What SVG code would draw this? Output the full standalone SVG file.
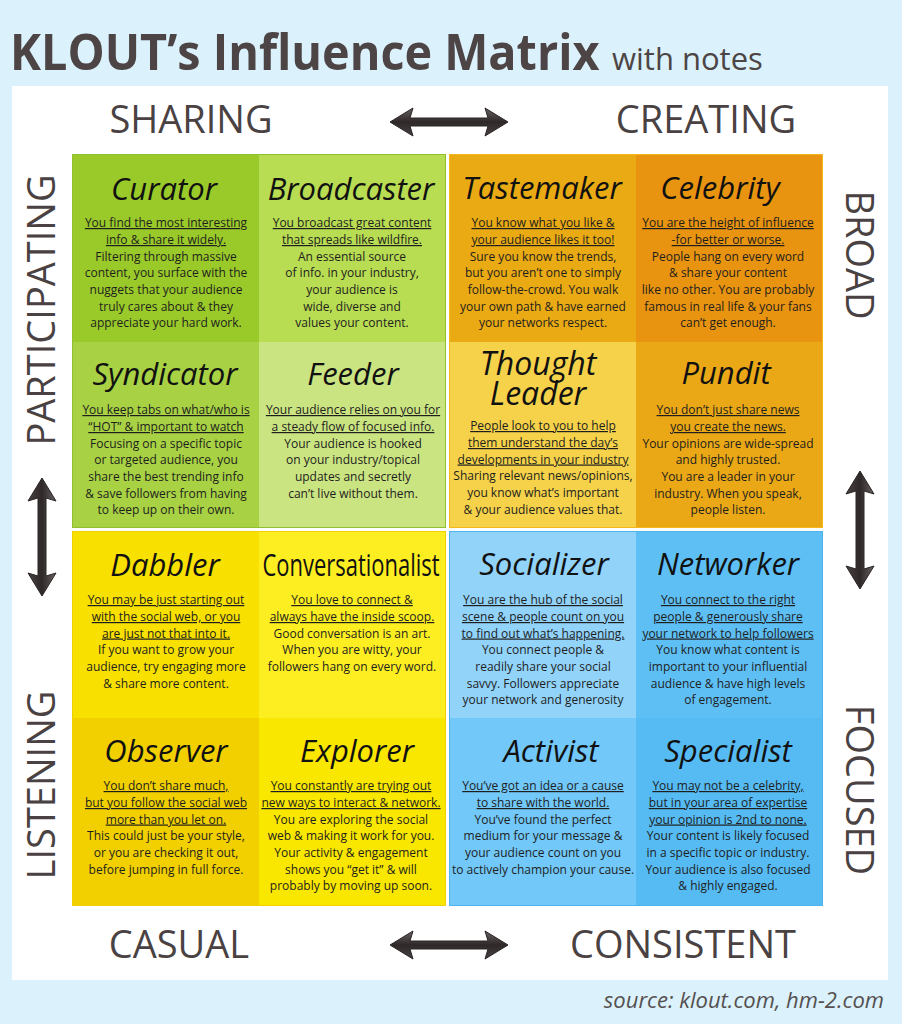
<svg xmlns="http://www.w3.org/2000/svg" width="902" height="1024" viewBox="0 0 902 1024">
<defs>
<style>
.h{font-family:"Open Sans","Noto Sans",sans-serif;font-style:italic;font-size:31px;fill:#111;text-anchor:middle}
.b{font-family:"Open Sans","Noto Sans",sans-serif;font-size:12px;fill:#1e1e1e;text-anchor:middle}
.u{text-decoration:underline}
.ax{font-family:"Open Sans","Noto Sans",sans-serif;font-size:38px;fill:#4a4242;text-anchor:middle}
.q{stroke-width:2}
</style>
<linearGradient id="ag" x1="0" y1="0" x2="0" y2="1">
<stop offset="0" stop-color="#6a6262"/><stop offset="0.5" stop-color="#2e2828"/><stop offset="1" stop-color="#4a4242"/>
</linearGradient>
<path id="arr" d="M-59,0 L-36,-14 L-39,-4 L39,-4 L36,-14 L59,0 L36,14 L39,4 L-39,4 L-36,14 Z" fill="url(#ag)" stroke="#2a2424" stroke-width="1"/>
</defs>
<rect x="0" y="0" width="902" height="1024" fill="#dbf1fc"/>
<rect x="12" y="86" width="876" height="894" fill="#ffffff"/>
<g id="title">
<text transform="translate(10,70) scale(0.9,1)" x="0" y="0" font-family="'Open Sans','Noto Sans',sans-serif" font-weight="bold" font-size="50" fill="#4d4545" textLength="655" lengthAdjust="spacingAndGlyphs">KLOUT’s Influence Matrix</text>
<text x="612" y="70" font-family="'Open Sans','Noto Sans',sans-serif" font-size="31" fill="#4d4545">with notes</text>
</g>
<g id="axis-labels">
<text class="ax" x="191" y="133">SHARING</text>
<text class="ax" x="706" y="133">CREATING</text>
<text class="ax" x="179" y="958">CASUAL</text>
<text class="ax" x="683" y="958">CONSISTENT</text>
<text class="ax" transform="translate(55,310) rotate(-90)">PARTICIPATING</text>
<text class="ax" transform="translate(55,785) rotate(-90)">LISTENING</text>
<text class="ax" transform="translate(846,255) rotate(90)">BROAD</text>
<text class="ax" transform="translate(846,790) rotate(90)">FOCUSED</text>
</g>
<g id="connectors">
<use href="#arr" transform="translate(449,122)"/>
<use href="#arr" transform="translate(449,945)"/>
<use href="#arr" transform="translate(42,537) rotate(90)"/>
<use href="#arr" transform="translate(860,530) rotate(90)"/>
</g>
<g id="quadrant-frames" fill="none">
<rect class="q" x="73" y="155" width="372" height="372" stroke="#90c030"/>
<rect class="q" x="450" y="155" width="372" height="372" stroke="#f2b81c"/>
<rect class="q" x="73" y="532" width="372" height="373" stroke="#f0d000"/>
<rect class="q" x="450" y="532" width="372" height="373" stroke="#50b4ec"/>
</g>
<g id="curator">
<rect x="73" y="155" width="186" height="187" fill="#9aca2a"/>
<text class="h" x="164" y="200">Curator</text>
<text class="b u" x="166" y="227">You find the most interesting</text>
<text class="b u" x="166" y="244">info &amp; share it widely.</text>
<text class="b" x="166" y="260.5">Filtering through massive</text>
<text class="b" x="166" y="277">content, you surface with the</text>
<text class="b" x="166" y="294">nuggets that your audience</text>
<text class="b" x="166" y="310.5">truly cares about &amp; they</text>
<text class="b" x="166" y="327">appreciate your hard work.</text>
</g>
<g id="broadcaster">
<rect x="259" y="155" width="186" height="187" fill="#b8dc52"/>
<text class="h" x="351" y="200">Broadcaster</text>
<text class="b u" x="352" y="227">You broadcast great content</text>
<text class="b u" x="352" y="244">that spreads like wildfire.</text>
<text class="b" x="352" y="260.5">An essential source</text>
<text class="b" x="352" y="277">of info. in your industry,</text>
<text class="b" x="352" y="294">your audience is</text>
<text class="b" x="352" y="310.5">wide, diverse and</text>
<text class="b" x="352" y="327">values your content.</text>
</g>
<g id="tastemaker">
<rect x="450" y="155" width="186" height="187" fill="#eaaa14"/>
<text class="h" x="542" y="199">Tastemaker</text>
<text class="b u" x="543" y="227">You know what you like &amp;</text>
<text class="b u" x="543" y="244">your audience likes it too!</text>
<text class="b" x="543" y="260.5">Sure you know the trends,</text>
<text class="b" x="543" y="277">but you aren’t one to simply</text>
<text class="b" x="543" y="294">follow-the-crowd. You walk</text>
<text class="b" x="543" y="310.5">your own path &amp; have earned</text>
<text class="b" x="543" y="327">your networks respect.</text>
</g>
<g id="celebrity">
<rect x="636" y="155" width="186" height="187" fill="#e99410"/>
<text class="h" x="720" y="199">Celebrity</text>
<text class="b u" x="728" y="227">You are the height of influence</text>
<text class="b u" x="728" y="244">-for better or worse.</text>
<text class="b" x="728" y="260.5">People hang on every word</text>
<text class="b" x="728" y="277">&amp; share your content</text>
<text class="b" x="728" y="294">like no other. You are probably</text>
<text class="b" x="728" y="310.5">famous in real life &amp; your fans</text>
<text class="b" x="728" y="327">can’t get enough.</text>
</g>
<g id="syndicator">
<rect x="73" y="342" width="186" height="185" fill="#a8d244"/>
<text class="h" x="165" y="385">Syndicator</text>
<text class="b u" x="166" y="414">You keep tabs on what/who is</text>
<text class="b u" x="166" y="431">“HOT” &amp; important to watch</text>
<text class="b" x="166" y="447.5">Focusing on a specific topic</text>
<text class="b" x="166" y="464">or targeted audience, you</text>
<text class="b" x="166" y="481">share the best trending info</text>
<text class="b" x="166" y="497.5">&amp; save followers from having</text>
<text class="b" x="166" y="514">to keep up on their own.</text>
</g>
<g id="feeder">
<rect x="259" y="342" width="186" height="185" fill="#cbe482"/>
<text class="h" x="353" y="385">Feeder</text>
<text class="b u" x="353" y="414">Your audience relies on you for</text>
<text class="b u" x="353" y="431">a steady flow of focused info.</text>
<text class="b" x="353" y="447.5">Your audience is hooked</text>
<text class="b" x="353" y="464">on your industry/topical</text>
<text class="b" x="353" y="481">updates and secretly</text>
<text class="b" x="353" y="497.5">can’t live without them.</text>
</g>
<g id="thought-leader">
<rect x="450" y="342" width="186" height="185" fill="#f5d24a"/>
<text class="h" x="538" y="375" style="font-size:32px">Thought<tspan x="538" dy="30">Leader</tspan></text>
<text class="b u" x="543" y="430">People look to you to help</text>
<text class="b u" x="543" y="447">them understand the day’s</text>
<text class="b u" x="543" y="463.5">developments in your industry</text>
<text class="b" x="543" y="480">Sharing relevant news/opinions,</text>
<text class="b" x="543" y="497">you know what’s important</text>
<text class="b" x="543" y="513.5">&amp; your audience values that.</text>
</g>
<g id="pundit">
<rect x="636" y="342" width="186" height="185" fill="#eaa816"/>
<text class="h" x="726" y="384">Pundit</text>
<text class="b u" x="728" y="414">You don’t just share news</text>
<text class="b u" x="728" y="431">you create the news.</text>
<text class="b" x="728" y="447.5">Your opinions are wide-spread</text>
<text class="b" x="728" y="464">and highly trusted.</text>
<text class="b" x="728" y="481">You are a leader in your</text>
<text class="b" x="728" y="497.5">industry.  When you speak,</text>
<text class="b" x="728" y="514">people listen.</text>
</g>
<g id="dabbler">
<rect x="73" y="532" width="186" height="186" fill="#f8e000"/>
<text class="h" x="165" y="576">Dabbler</text>
<text class="b u" x="166" y="604">You may be just starting out</text>
<text class="b u" x="166" y="621">with the social web, or you</text>
<text class="b u" x="166" y="637.5">are just not that into it.</text>
<text class="b" x="166" y="654">If you want to grow your</text>
<text class="b" x="166" y="671">audience, try engaging more</text>
<text class="b" x="166" y="687.5">&amp; share more content.</text>
</g>
<g id="conversationalist">
<rect x="259" y="532" width="186" height="186" fill="#fdee22"/>
<text class="h" transform="translate(351,576) scale(0.7,1)" x="0" y="0" style="font-style:normal" textLength="253" lengthAdjust="spacingAndGlyphs">Conversationalist</text>
<text class="b u" x="352" y="604">You love to connect &amp;</text>
<text class="b u" x="352" y="621">always have the inside scoop.</text>
<text class="b" x="352" y="637.5">Good conversation is an art.</text>
<text class="b" x="352" y="654">When you are witty, your</text>
<text class="b" x="352" y="671">followers hang on every word.</text>
</g>
<g id="socializer">
<rect x="450" y="532" width="186" height="186" fill="#92d3fa"/>
<text class="h" x="544" y="575">Socializer</text>
<text class="b u" x="543" y="604">You are the hub of the social</text>
<text class="b u" x="543" y="621">scene &amp; people count on you</text>
<text class="b u" x="543" y="637.5">to find out what’s happening.</text>
<text class="b" x="543" y="654">You connect people &amp;</text>
<text class="b" x="543" y="671">readily share your social</text>
<text class="b" x="543" y="687.5">savvy. Followers appreciate</text>
<text class="b" x="543" y="704">your network and generosity</text>
</g>
<g id="networker">
<rect x="636" y="532" width="186" height="186" fill="#5ebff4"/>
<text class="h" x="728" y="575">Networker</text>
<text class="b u" x="728" y="604">You connect to the right</text>
<text class="b u" x="728" y="621">people &amp; generously share</text>
<text class="b u" x="728" y="637.5">your network to help followers</text>
<text class="b" x="728" y="654">You know what content is</text>
<text class="b" x="728" y="671">important to your influential</text>
<text class="b" x="728" y="687.5">audience &amp; have high levels</text>
<text class="b" x="728" y="704">of engagement.</text>
</g>
<g id="observer">
<rect x="73" y="718" width="186" height="187" fill="#f2d000"/>
<text class="h" x="166" y="762">Observer</text>
<text class="b u" x="166" y="790">You don’t share much,</text>
<text class="b u" x="166" y="807">but you follow the social web</text>
<text class="b u" x="166" y="823.5">more than you let on.</text>
<text class="b" x="166" y="840">This could just be your style,</text>
<text class="b" x="166" y="857">or you are checking it out,</text>
<text class="b" x="166" y="873.5">before jumping in full force.</text>
</g>
<g id="explorer">
<rect x="259" y="718" width="186" height="187" fill="#fae700"/>
<text class="h" x="357" y="762">Explorer</text>
<text class="b u" x="351" y="790">You constantly are trying out</text>
<text class="b u" x="351" y="807">new ways to interact &amp; network.</text>
<text class="b" x="351" y="823.5">You are exploring the social</text>
<text class="b" x="351" y="840">web &amp; making it work for you.</text>
<text class="b" x="351" y="857">Your activity &amp; engagement</text>
<text class="b" x="351" y="873.5">shows you “get it” &amp; will</text>
<text class="b" x="351" y="890">probably by moving up soon.</text>
</g>
<g id="activist">
<rect x="450" y="718" width="186" height="187" fill="#72c8f8"/>
<text class="h" x="551" y="762">Activist</text>
<text class="b u" x="543" y="790">You’ve got an idea or a cause</text>
<text class="b u" x="543" y="807">to share with the world.</text>
<text class="b" x="543" y="823.5">You’ve found the perfect</text>
<text class="b" x="543" y="840">medium for your message &amp;</text>
<text class="b" x="543" y="857">your audience count on you</text>
<text class="b" x="543" y="873.5">to actively champion your cause.</text>
</g>
<g id="specialist">
<rect x="636" y="718" width="186" height="187" fill="#56bbf3"/>
<text class="h" x="728" y="762">Specialist</text>
<text class="b u" x="728" y="790">You may not be a celebrity,</text>
<text class="b u" x="728" y="807">but in your area of expertise</text>
<text class="b u" x="728" y="823.5">your opinion is 2nd to none.</text>
<text class="b" x="728" y="840">Your content is likely focused</text>
<text class="b" x="728" y="857">in a specific topic or industry.</text>
<text class="b" x="728" y="873.5">Your audience is also focused</text>
<text class="b" x="728" y="890">&amp; highly engaged.</text>
</g>
<g id="source">
<text x="884" y="1008" text-anchor="end" font-family="'Open Sans','Noto Sans',sans-serif" font-style="italic" font-size="22" fill="#555050">source: klout.com, hm-2.com</text>
</g>
</svg>
